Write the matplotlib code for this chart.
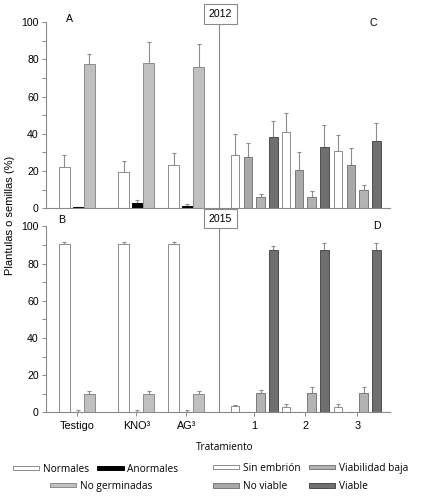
import matplotlib
matplotlib.use("Agg")
import matplotlib.pyplot as plt
from matplotlib.patches import Patch
import numpy as np

# Datos (%)
tratamientos = ["Testigo", "KNO³", "AG³"]
lotes = ["1", "2", "3"]

# 2012 - panel A
normales_2012 = [22.4, 19.7, 23.3]
normales_2012_err = [6.1, 5.9, 6.5]
anormales_2012 = [0.5, 2.7, 1.2]
anormales_2012_err = [0.0, 1.8, 1.1]
no_germ_2012 = [77.6, 77.9, 76.0]
no_germ_2012_err = [5.5, 11.5, 12.5]

# 2015 - panel B
normales_2015 = [90.3, 90.3, 90.3]
normales_2015_err = [1.3, 1.3, 1.3]
anormales_2015 = [0.3, 0.3, 0.3]
anormales_2015_err = [1.0, 1.0, 1.0]
no_germ_2015 = [10.0, 10.0, 10.0]
no_germ_2015_err = [1.4, 1.4, 1.4]

# 2012 - panel C
sin_emb_2012 = [28.9, 40.9, 30.9]
sin_emb_2012_err = [11.3, 10.3, 8.7]
no_viable_2012 = [27.5, 20.8, 23.5]
no_viable_2012_err = [7.8, 9.4, 8.8]
viab_baja_2012 = [6.1, 6.1, 10.0]
viab_baja_2012_err = [1.8, 3.1, 2.7]
viable_2012 = [38.2, 32.9, 36.3]
viable_2012_err = [8.8, 11.8, 9.7]

# 2015 - panel D
sin_emb_2015 = [3.2, 2.9, 2.9]
sin_emb_2015_err = [0.7, 1.6, 1.6]
no_viable_2015 = [0.2, 0.2, 0.2]
no_viable_2015_err = [0.0, 0.0, 0.0]
viab_baja_2015 = [10.2, 10.2, 10.2]
viab_baja_2015_err = [1.6, 3.2, 3.2]
viable_2015 = [87.5, 87.5, 87.5]
viable_2015_err = [1.9, 3.5, 3.5]

# estilos
C_BLANCO = "white"
C_NEGRO = "black"
C_NOGERM = "#c0c0c0"
C_NOVIA = "#a9a9a9"
C_BAJA = "#b3b3b3"
C_VIABLE = "#6f6f6f"
C_BORDE = "#8c8c8c"
C_EJE = "#8a8a8a"

FONT = "Liberation Sans"
FONT_LEY = "Open Sans"

# posiciones (unidades ~ pixeles desde el eje y)
centros_izq = np.array([31.0, 90.5, 140.5])
centros_der = np.array([208.5, 259.5, 311.5])
separador = 173.5

fig = plt.figure(figsize=(4.26, 4.96), dpi=100)
W, H = 426.0, 496.0
x0, x1 = 45.7, 390.0
ax_top = fig.add_axes([x0 / W, 1 - 208.3 / H, (x1 - x0) / W, 186.0 / H])
ax_bot = fig.add_axes([x0 / W, 1 - 412.3 / H, (x1 - x0) / W, 186.0 / H])


def barras(ax, x, vals, errs, width, color, edge):
    ax.bar(x, vals, width=width, color=color, edgecolor=edge, linewidth=0.7, zorder=2)
    errs = np.array(errs)
    ax.errorbar(x, vals, yerr=[np.zeros_like(errs), errs], fmt="none",
                ecolor="#8c8c8c", elinewidth=0.8, capsize=1.6, capthick=0.8, zorder=1)


def formato(ax, con_ticks):
    ax.set_xlim(0, x1 - x0)
    ax.set_ylim(0, 100)
    for s in ["top", "right"]:
        ax.spines[s].set_visible(False)
    for s in ["left", "bottom"]:
        ax.spines[s].set_color(C_EJE)
        ax.spines[s].set_linewidth(0.8)
    ax.set_yticks(np.arange(0, 101, 20))
    ax.set_yticks(np.arange(10, 100, 20), minor=True)
    ax.tick_params(axis="y", which="both", direction="out", length=3, width=0.7,
                   color=C_EJE, labelsize=7.6, pad=2)
    for lab in ax.get_yticklabels():
        lab.set_fontfamily(FONT)
    ax.axvline(separador, color=C_EJE, linewidth=0.8, zorder=0)
    if con_ticks:
        ax.set_xticks(list(centros_izq) + list(centros_der))
        ax.set_xticklabels(tratamientos + lotes, fontfamily=FONT, fontsize=7.8)
        ax.tick_params(axis="x", direction="out", length=3, width=0.7, color=C_EJE, pad=3)
    else:
        ax.set_xticks([])


# panel A y B
for ax, datos in [
    (ax_top, [(normales_2012, normales_2012_err), (anormales_2012, anormales_2012_err),
              (no_germ_2012, no_germ_2012_err)]),
    (ax_bot, [(normales_2015, normales_2015_err), (anormales_2015, anormales_2015_err),
              (no_germ_2015, no_germ_2015_err)]),
]:
    barras(ax, centros_izq - 12.5, datos[0][0], datos[0][1], 11, C_BLANCO, C_BORDE)
    barras(ax, centros_izq + 1.0, datos[1][0], datos[1][1], 10, C_NEGRO, C_NEGRO)
    barras(ax, centros_izq + 12.5, datos[2][0], datos[2][1], 11, C_NOGERM, C_BORDE)

# panel C y D
for ax, datos in [
    (ax_top, [(sin_emb_2012, sin_emb_2012_err), (no_viable_2012, no_viable_2012_err),
              (viab_baja_2012, viab_baja_2012_err), (viable_2012, viable_2012_err)]),
    (ax_bot, [(sin_emb_2015, sin_emb_2015_err), (no_viable_2015, no_viable_2015_err),
              (viab_baja_2015, viab_baja_2015_err), (viable_2015, viable_2015_err)]),
]:
    cols = [(C_BLANCO, C_BORDE), (C_NOVIA, "#7a7a7a"), (C_BAJA, "#7a7a7a"), (C_VIABLE, "#4d4d4d")]
    for k, off in enumerate([-19.2, -6.4, 6.4, 19.2]):
        barras(ax, centros_der + off, datos[k][0], datos[k][1], 8.5, cols[k][0], cols[k][1])

formato(ax_top, False)
formato(ax_bot, True)

# letras de panel
kw = dict(fontfamily=FONT, fontsize=7.6, ha="center", va="center", clip_on=False)
ax_top.text(0.068, 1.02, "A", transform=ax_top.transAxes, **kw)
ax_top.text(0.951, 0.995, "C", transform=ax_top.transAxes, **kw)
ax_bot.text(0.047, 1.032, "B", transform=ax_bot.transAxes, **kw)
ax_bot.text(0.963, 1.0, "D", transform=ax_bot.transAxes, **kw)

# cajas de anio
caja = dict(boxstyle="square,pad=0.45", facecolor="white", edgecolor=C_EJE, linewidth=0.8)
fig.text(220.5 / W, 1 - 14 / H, "2012", fontfamily=FONT, fontsize=7.6, ha="center",
         va="center", bbox=caja)
fig.text(220.5 / W, 1 - 218.5 / H, "2015", fontfamily=FONT, fontsize=7.6, ha="center",
         va="center", bbox=caja)

fig.text(10 / W, 1 - 215 / H, "Plantulas o semillas (%)", fontfamily=FONT, fontsize=8,
         rotation=90, ha="center", va="center")
fig.text(225 / W, 1 - 447 / H, "Tratamiento", fontfamily=FONT_LEY, fontsize=7.2,
         ha="center", va="center")

# leyendas
lw = 0.7
h_norm = Patch(facecolor=C_BLANCO, edgecolor=C_BORDE, linewidth=lw)
h_anor = Patch(facecolor=C_NEGRO, edgecolor=C_NEGRO, linewidth=lw)
h_nog = Patch(facecolor=C_NOGERM, edgecolor=C_BORDE, linewidth=lw)
h_sin = Patch(facecolor=C_BLANCO, edgecolor=C_BORDE, linewidth=lw)
h_nov = Patch(facecolor=C_NOVIA, edgecolor="#7a7a7a", linewidth=lw)
h_baj = Patch(facecolor=C_BAJA, edgecolor="#7a7a7a", linewidth=lw)
h_via = Patch(facecolor=C_VIABLE, edgecolor="#4d4d4d", linewidth=lw)

ley = dict(frameon=False, borderpad=0, borderaxespad=0, handlelength=2.6, handleheight=0.3,
           handletextpad=0.35, columnspacing=0.8, labelspacing=0.75,
           prop={"family": FONT_LEY, "size": 7.3})
fig.legend([h_norm, h_anor], ["Normales", "Anormales"], ncol=2, loc="center left",
           bbox_to_anchor=(13 / W, 1 - 469 / H), **ley)
fig.legend([h_nog], ["No germinadas"], loc="center left",
           bbox_to_anchor=(50 / W, 1 - 486 / H), **ley)
fig.legend([h_sin, h_nov, h_baj, h_via], ["Sin embrión", "No viable", "Viabilidad baja", "Viable"],
           ncol=2, loc="center left", bbox_to_anchor=(213 / W, 1 - 477.5 / H), **ley)

fig.savefig("out.png", dpi=100)
